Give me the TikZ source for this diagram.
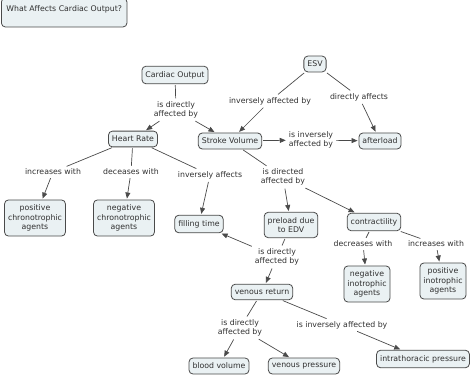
\documentclass[tikz,border=0pt]{standalone}
\usepackage{fontspec}
\setmainfont{DejaVu Sans}
\usepackage{xcolor}
\usepackage{tikz}
\usetikzlibrary{arrows.meta}
\definecolor{cmapfill}{HTML}{EAF1F3}
\definecolor{cmapline}{HTML}{4A4A4A}
\definecolor{cmaptext}{HTML}{303030}
\newcommand{\cmfont}{\fontsize{7.8}{9.3}\selectfont}
\tikzset{
  cbox/.style={rectangle, rounded corners=4pt, draw=cmapline, fill=cmapfill, line width=0.8pt, align=center, font=\cmfont, text=cmaptext, inner xsep=3.5pt, inner ysep=5pt},
  titlebox/.style={rectangle, rounded corners=4pt, draw=cmapline, fill=cmapfill, line width=0.8pt, font=\cmfont, text=cmaptext, inner xsep=5pt, inner ysep=2pt, text height=12pt, text depth=13pt, anchor=base west},
  clink/.style={align=center, font=\cmfont, text=cmaptext, inner sep=2pt},
  cline/.style={draw=cmapline, line width=0.7pt, shorten <=1pt, shorten >=1pt},
  carrow/.style={cline, -{Triangle[length=6pt, width=5pt]}}
}

\begin{document}
\begin{tikzpicture}[x=1pt, y=-1pt]
\useasboundingbox (0,0) rectangle (474,377);
\node[titlebox] (title) at (1,12) {What Affects Cardiac Output?};
% concepts
\node[cbox] (co) at (175,75) {Cardiac Output};
\node[cbox] (hr) at (133,139) {Heart Rate};
\node[cbox] (sv) at (230,141) {Stroke Volume};
\node[cbox] (esv) at (315,64) {ESV};
\node[cbox] (after) at (380,141) {afterload};
\node[cbox] (poschrono) at (35,218) {positive\\chronotrophic\\agents};
\node[cbox] (negchrono) at (124,218) {negative\\chronotrophic\\agents};
\node[cbox] (filling) at (199,224) {filling time};
\node[cbox] (preload) at (291,225) {preload due\\to EDV};
\node[cbox] (contr) at (374,222) {contractility};
\node[cbox] (negino) at (367,284) {negative\\inotrophic\\agents};
\node[cbox] (posino) at (443,281) {positive\\inotrophic\\agents};
\node[cbox] (venret) at (262,292) {venous return};
\node[cbox] (blood) at (219,366) {blood volume};
\node[cbox] (venpres) at (304,366) {venous pressure};
\node[cbox] (intra) at (423,359) {intrathoracic pressure};
% linking phrases
\node[clink] (coaff) at (176,110) {is directly\\affected by};
\node[clink] (esvinv) at (270,101) {inversely affected by};
\node[clink] (esvdir) at (359,97) {directly affects};
\node[clink] (svinv) at (311,140) {is inversely\\affected by};
\node[clink] (hrinc) at (53,172) {increases with};
\node[clink] (hrdec) at (131,172) {deceases with};
\node[clink] (hrinv) at (210,175) {inversely affects};
\node[clink] (svdir) at (283,177) {is directed\\affected by};
\node[clink] (ctdec) at (363,244) {decreases with};
\node[clink] (ctinc) at (436,244) {increases with};
\node[clink] (preaff) at (277,257) {is directly\\affected by};
\node[clink] (vrdir) at (240,328) {is directly\\affected by};
\node[clink] (vrinv) at (342,325) {is inversely affected by};
% connectors
\draw[cline] (co) -- (coaff);
\draw[carrow] (coaff) -- (hr);
\draw[carrow] (coaff) -- (sv);
\draw[cline] (esv) -- (esvinv);
\draw[carrow] (esvinv) -- (sv);
\draw[cline] (esv) -- (esvdir);
\draw[carrow] (esvdir) -- (after);
\draw[carrow] (sv) -- (svinv);
\draw[carrow] (svinv) -- (after);
\draw[cline] (hr) -- (hrinc);
\draw[carrow] (hrinc) -- (poschrono);
\draw[cline] (hr) -- (hrdec);
\draw[carrow] (hrdec) -- (negchrono);
\draw[cline] (hr) -- (hrinv);
\draw[carrow] (hrinv) -- (filling);
\draw[cline] (sv) -- (svdir);
\draw[carrow] (svdir) -- (preload);
\draw[carrow] (svdir) -- (contr);
\draw[cline] (contr) -- (ctdec);
\draw[carrow] (ctdec) -- (negino);
\draw[cline] (contr) -- (ctinc);
\draw[carrow] (ctinc) -- (posino);
\draw[cline] (preload) -- (preaff);
\draw[carrow] (preaff) -- (venret);
\draw[carrow] (preaff) -- (filling);
\draw[cline] (venret) -- (vrdir);
\draw[carrow] (vrdir) -- (blood);
\draw[carrow] (vrdir) -- (venpres);
\draw[cline] (venret) -- (vrinv);
\draw[carrow] (vrinv) -- (intra);
\end{tikzpicture}
\end{document}
